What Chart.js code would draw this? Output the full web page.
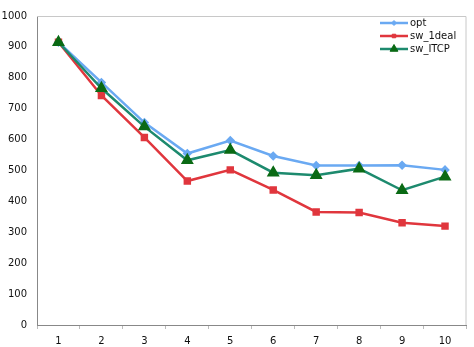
<!DOCTYPE html>
<html lang="en">
<head>
  <meta charset="UTF-8" />
  <title>opt vs sw_1deal vs sw_ITCP</title>
  <script src="https://cdn.jsdelivr.net/npm/chart.js@4.4.0/dist/chart.umd.min.js"></script>
  <style>
    body { margin: 0; background: #fff; }
    #wrap { width: 474px; height: 347px; position: relative; }
  </style>
</head>
<body>
  <div id="wrap"><canvas id="chart" width="474" height="347"></canvas></div>
  <script>
    // data
    const categories = ['1', '2', '3', '4', '5', '6', '7', '8', '9', '10'];
    const optValues = [915, 785, 655, 555, 597, 547, 516, 516, 517, 502];
    const idealValues = [915, 743, 607, 466, 502, 437, 366, 364, 331, 320];
    const itcpValues = [915, 766, 642, 533, 566, 493, 485, 506, 436, 480];
    const yTicks = [0, 100, 200, 300, 400, 500, 600, 700, 800, 900, 1000];

    const font = { family: 'DejaVu Sans', size: 10 };

    // legend drawn inside the plot, top right
    const boxLegend = {
      id: 'boxLegend',
      afterDatasetsDraw(chart) {
        const ctx = chart.ctx;
        const items = chart.data.datasets;
        const x0 = 380, x1 = 408, y0 = 23, step = 13;
        ctx.save();
        items.forEach((ds, i) => {
          const y = y0 + i * step;
          ctx.strokeStyle = ds.borderColor;
          ctx.lineWidth = 2.5;
          ctx.beginPath();
          ctx.moveTo(x0, y);
          ctx.lineTo(x1, y);
          ctx.stroke();
          ctx.fillStyle = ds.pointBackgroundColor;
          ctx.strokeStyle = ds.pointBorderColor;
          ctx.lineWidth = 1;
          Chart.helpers.drawPoint(ctx, {
            pointStyle: ds.pointStyle,
            radius: ds.pointStyle === 'triangle' ? 4.5 : 2.5,
            borderWidth: 1
          }, (x0 + x1) / 2, y);
          ctx.fillStyle = '#111';
          ctx.font = '10px "DejaVu Sans"';
          ctx.textBaseline = 'middle';
          ctx.fillText(ds.label, x1 + 2, y);
        });
        // top and right frame lines
        const a = chart.chartArea;
        ctx.strokeStyle = '#c8c8c8';
        ctx.lineWidth = 1;
        ctx.beginPath();
        ctx.moveTo(a.left, a.top + 0.5);
        ctx.lineTo(a.right - 0.5, a.top + 0.5);
        ctx.lineTo(a.right - 0.5, a.bottom);
        ctx.stroke();
        ctx.restore();
      }
    };

    new Chart(document.getElementById('chart'), {
      type: 'line',
      data: {
        labels: categories,
        datasets: [
          {
            label: 'opt',
            data: optValues,
            borderColor: '#6aa9f2',
            backgroundColor: '#6aa9f2',
            pointBackgroundColor: '#6aa9f2',
            pointBorderColor: '#6aa9f2',
            pointStyle: 'rectRot',
            pointRadius: 3,
            borderWidth: 2.5,
            order: 3
          },
          {
            label: 'sw_1deal',
            data: idealValues,
            borderColor: '#e0363d',
            backgroundColor: '#e0363d',
            pointBackgroundColor: '#e0363d',
            pointBorderColor: '#e0363d',
            pointStyle: 'rect',
            pointRadius: 3.5,
            borderWidth: 2.5,
            order: 2
          },
          {
            label: 'sw_ITCP',
            data: itcpValues,
            borderColor: '#1d8a6e',
            backgroundColor: '#0a6a14',
            pointBackgroundColor: '#0a6a14',
            pointBorderColor: '#0a6a14',
            pointStyle: 'triangle',
            pointRadius: 5,
            borderWidth: 2.5,
            order: 1
          }
        ]
      },
      options: {
        responsive: false,
        animation: false,
        layout: { padding: { top: 4, right: 2, left: 0, bottom: 0 } },
        plugins: {
          legend: { display: false },
          tooltip: { enabled: false }
        },
        scales: {
          x: {
            offset: true,
            grid: {
              offset: true,
              drawOnChartArea: false,
              drawTicks: true,
              tickLength: 4,
              color: '#bbb'
            },
            border: { color: '#888', width: 1 },
            ticks: { color: '#111', font: font, padding: 6 },
            afterFit(s) { s.height = 22; }
          },
          y: {
            min: 0,
            max: 1000,
            afterBuildTicks(s) { s.ticks = yTicks.map(v => ({ value: v })); },
            grid: { display: false, drawTicks: false },
            border: { color: '#888', width: 1 },
            ticks: { color: '#111', font: font, padding: 10, callback: v => String(v) },
            afterFit(s) { s.width = 37; }
          }
        }
      },
      plugins: [boxLegend]
    });
  </script>
</body>
</html>
